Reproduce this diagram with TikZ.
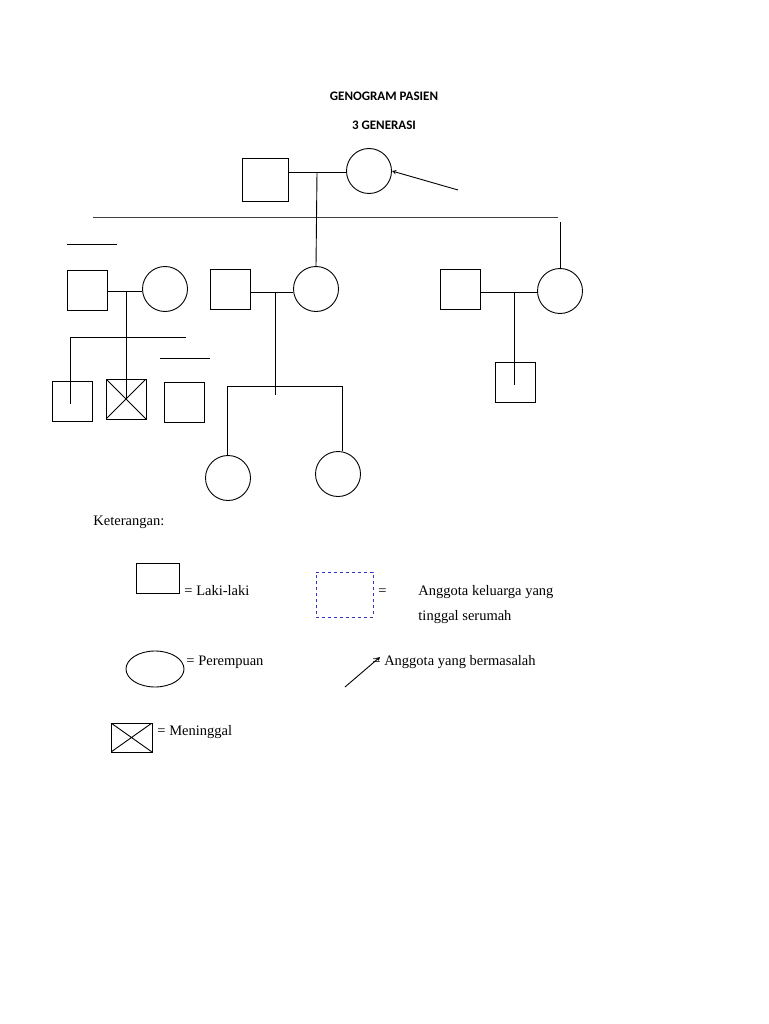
\documentclass[tikz,border=0pt]{standalone}
\usepackage{fontspec}
\usetikzlibrary{shapes.geometric}
\setmainfont{Liberation Serif}
\newfontfamily\calib{Carlito}
\begin{document}
\begin{tikzpicture}[x=1pt,y=-1pt,line width=0.9pt,
  sq/.style={draw,minimum width=40pt,minimum height=40pt,inner sep=0pt},
  ci/.style={draw,circle,minimum size=45pt,inner sep=0pt},
  txt/.style={anchor=base west,inner sep=0pt,font=\fontsize{14.5}{16}\selectfont},
  ttl/.style={inner sep=0pt,font=\calib\bfseries\fontsize{13}{15}\selectfont}]
\useasboundingbox (0,0) rectangle (768,1024);
\node[ttl] (t1) at (384,96) {GENOGRAM PASIEN};
\node[ttl] (t2) at (384,125) {3 GENERASI};
% gen 1
\node[sq,minimum width=46pt,minimum height=43pt] (g1m) at (265,180) {};
\node[ci] (g1f) at (369,171) {};
\coordinate (a1) at (458,190);
\draw[-stealth] (a1) -- (g1f.east);
\coordinate (m1) at (317,172);
\draw (g1m.east |- m1) -- (g1f.west |- m1);
\coordinate (l1) at (93,217); \coordinate (l2) at (558,217);
\draw[gray!50!black] (l1) -- (l2);
\coordinate (s1) at (67,244); \coordinate (s2) at (117,244);
\draw (s1) -- (s2);
% gen 2
\node[sq] (am) at (87,290) {};
\node[ci] (af) at (165,289) {};
\node[sq] (bm) at (230,289) {};
\node[ci] (bf) at (316,289) {};
\node[sq] (cm) at (460,289) {};
\node[ci] (cf) at (560,291) {};
\draw (m1) -- (bf.north);
\coordinate (cv) at (560,222);
\draw (cv) -- (cf.north -| cv);
\coordinate (m2) at (126,291);
\draw (am.east |- m2) -- (af.west |- m2);
\coordinate (m3) at (275,292);
\draw (bm.east |- m3) -- (bf.west |- m3);
\coordinate (m4) at (514,292);
\draw (cm.east |- m4) -- (cf.west |- m4);
% gen 3 left
\node[sq] (k1) at (72,401) {};
\node[sq,path picture={\draw (path picture bounding box.north west)--(path picture bounding box.south east) (path picture bounding box.north east)--(path picture bounding box.south west);}] (k2) at (126,399) {};
\node[sq] (k3) at (184,402) {};
\coordinate (h1) at (70,337); \coordinate (h2) at (186,337);
\draw (h2) -- (h1) -- (70,404);
\draw (m2) -- (k2.center);
\coordinate (s3) at (160,358); \coordinate (s4) at (210,358);
\draw (s3) -- (s4);
% gen 3 middle
\node[ci] (d1) at (228,478) {};
\node[ci] (d2) at (338,474) {};
\coordinate (h3) at (227,386); \coordinate (h4) at (342,386);
\draw (m3) -- (275,395);
\draw (d1.north -| h3) -- (h3) -- (h4) -- (d2.north -| h4);
% gen 3 right
\node[sq] (r1) at (515,382) {};
\draw (m4) -- (514,385);
% legend
\node[txt] (k) at (93,525) {Keterangan:};
\node[draw,minimum width=43pt,minimum height=30pt,inner sep=0pt] (lsq) at (157.5,578) {};
\node[txt] (lt1) at (184,595) {= Laki-laki};
\node[draw=blue!60!gray,dashed,minimum width=57pt,minimum height=45pt,inner sep=0pt] (lds) at (344.5,594.5) {};
\node[txt] (lt2) at (378,595) {=};
\node[txt] (lt3) at (418,595) {Anggota keluarga yang};
\node[txt] (lt4) at (418,620) {tinggal serumah};
\node[draw,ellipse,minimum width=58pt,minimum height=36pt,inner sep=0pt] (lel) at (155,669) {};
\node[txt] (lt5) at (186,665) {= Perempuan};
\coordinate (la) at (345,687); \coordinate (lb) at (380,657);
\draw[-stealth] (la) -- (lb);
\node[txt] (lt6) at (372,665) {= Anggota yang bermasalah};
\node[sq,minimum width=41pt,minimum height=29pt,path picture={\draw (path picture bounding box.north west)--(path picture bounding box.south east) (path picture bounding box.north east)--(path picture bounding box.south west);}] (lx) at (131.5,737.5) {};
\node[txt] (lt7) at (157,735) {= Meninggal};
\end{tikzpicture}
\end{document}
